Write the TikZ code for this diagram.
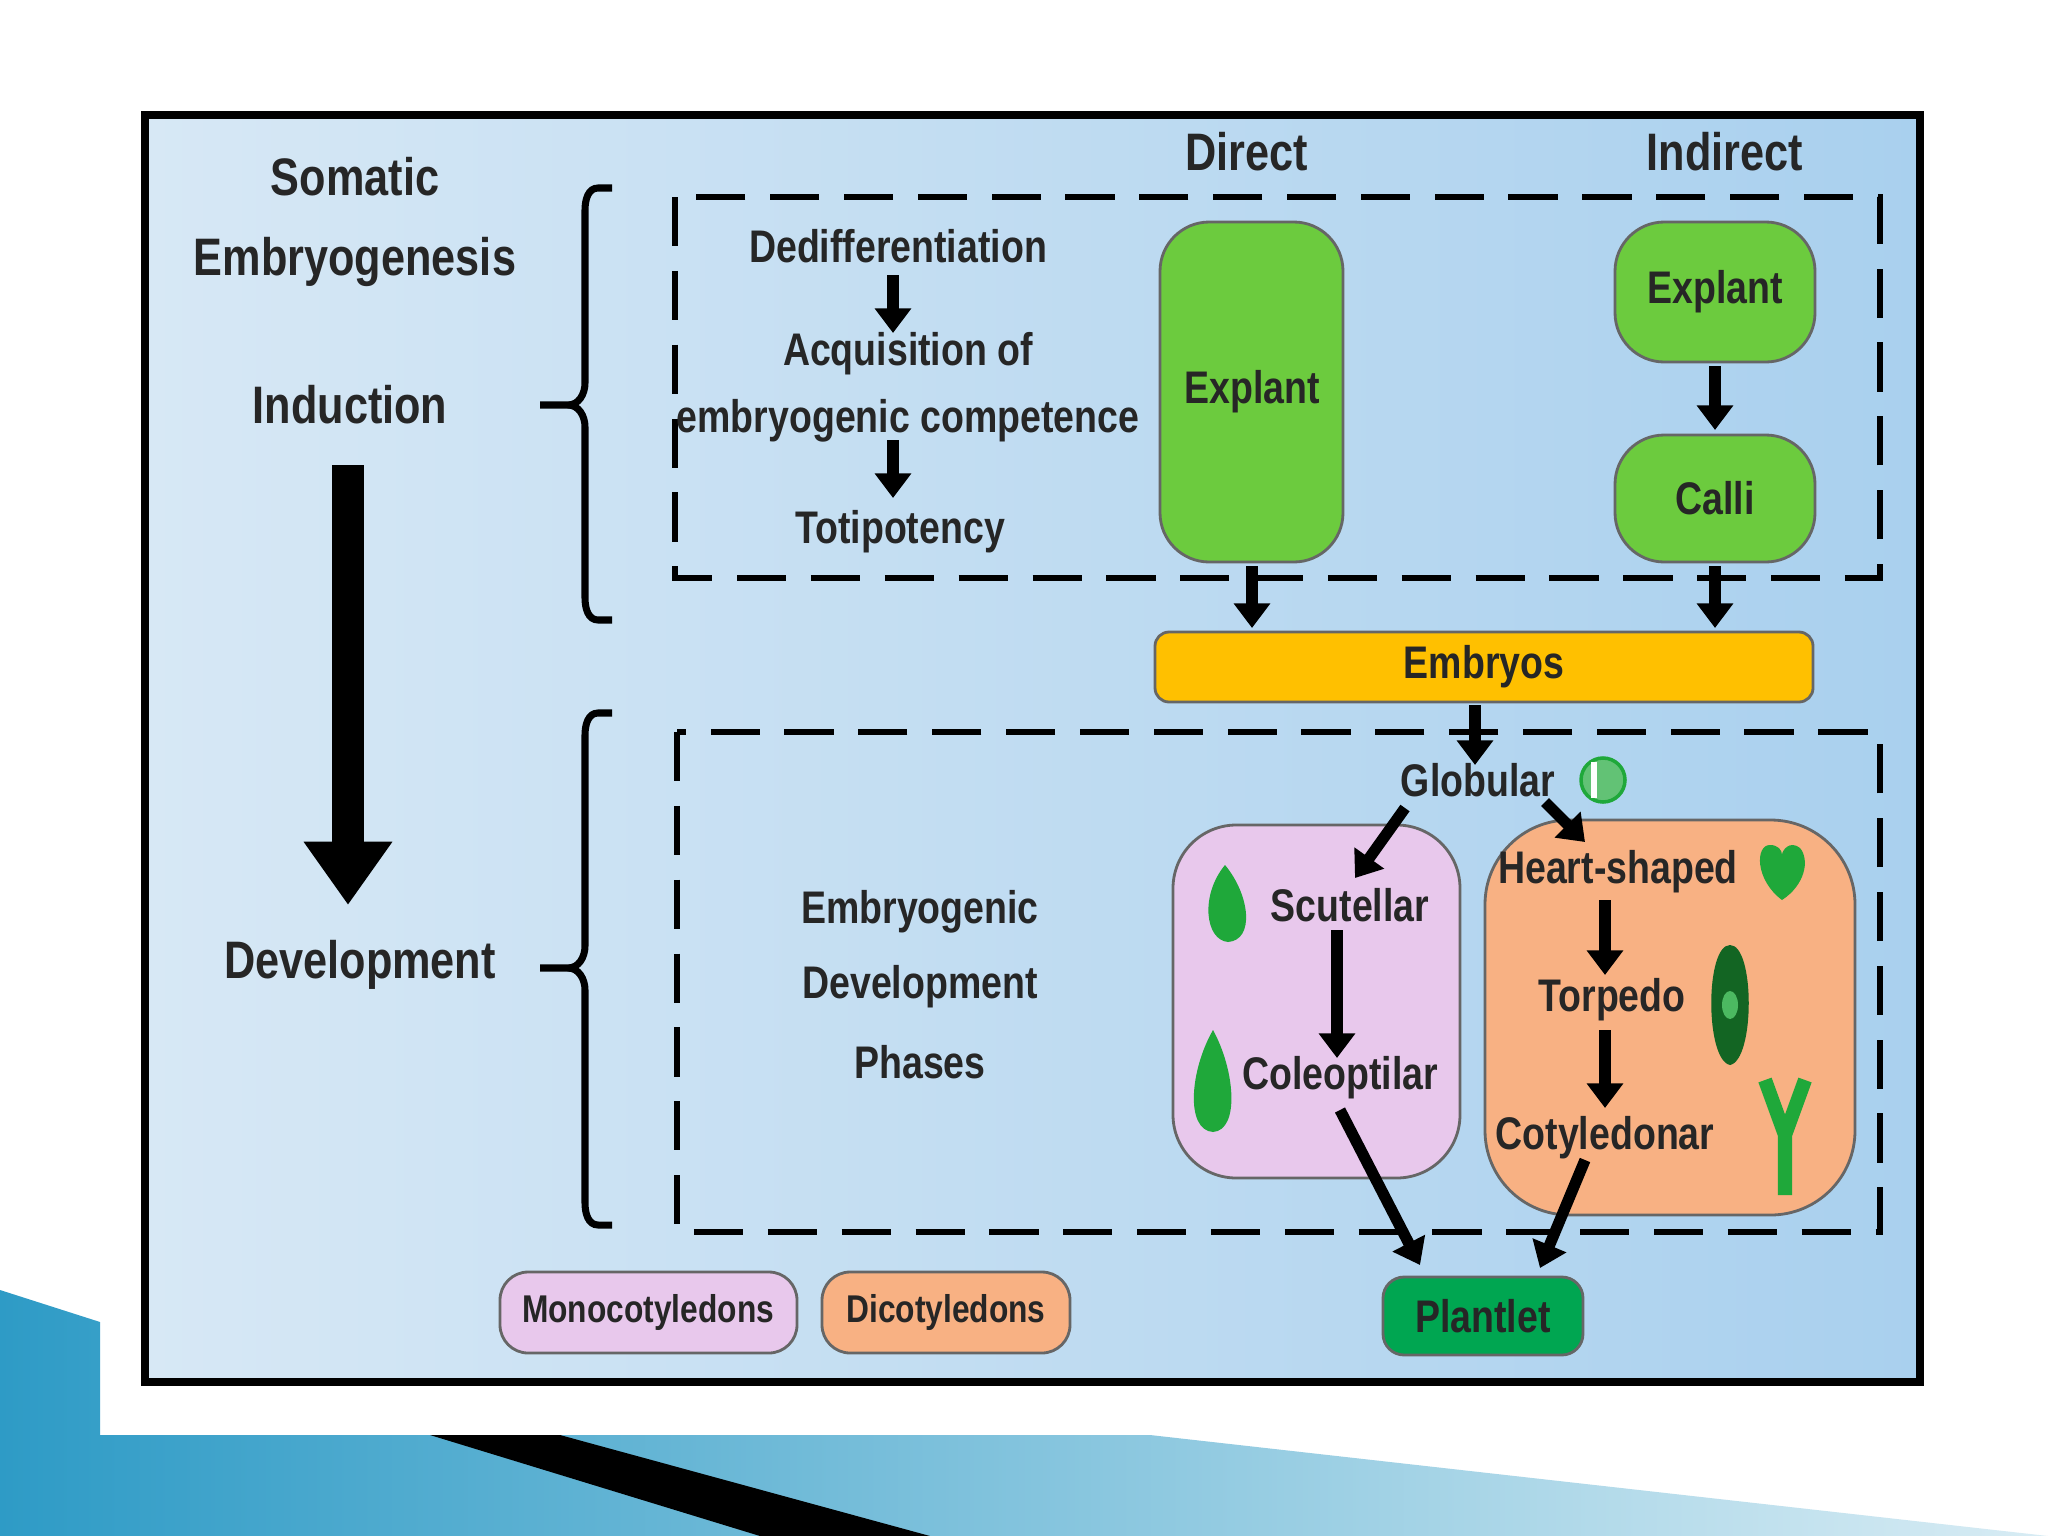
\documentclass[tikz,border=0pt]{standalone}
\usepackage{fontspec}
\setmainfont{Liberation Sans}[FakeStretch=0.82]
\usetikzlibrary{arrows.meta}
\definecolor{bgl}{HTML}{D7E8F5}
\definecolor{bgr}{HTML}{A9D0EE}
\definecolor{grn}{HTML}{6CCB3E}
\definecolor{dgrn}{HTML}{00A651}
\definecolor{pnk}{HTML}{E8C8EC}
\definecolor{org}{HTML}{F8B183}
\definecolor{yel}{HTML}{FFC000}
\definecolor{icon}{HTML}{1FA83A}
\definecolor{teal}{HTML}{2E9BC6}
\definecolor{pale}{HTML}{D8ECF4}
\begin{document}
\begin{tikzpicture}[x=0.01cm,y=-0.01cm,
  txt/.style={font=\fontsize{13}{15}\selectfont\bfseries, text=black!85, inner sep=1pt},
  big/.style={font=\fontsize{15}{17}\selectfont\bfseries, text=black!85, inner sep=1pt},
  sbox/.style={draw=black!60, line width=0.8pt},
  arr/.style={line width=3.2pt, -{Triangle[length=7pt,width=10pt]}},
  dbox/.style={draw, line width=1.8pt, dash pattern=on 14pt off 7pt}]
\useasboundingbox (0,0) rectangle (2048,1536);
\fill[white] (0,0) rectangle (2048,1536);
% slide decoration
\shade[left color=teal, right color=pale] (0,1290) -- (100,1322) -- (100,1435) -- (1150,1435) -- (2048,1536) -- (0,1536) -- cycle;
\fill[black] (430,1435) -- (560,1435) -- (930,1536) -- (760,1536) -- cycle;
% frame
\shade[left color=bgl, right color=bgr, draw=black, line width=2.5pt] (145,115) rectangle (1920,1382);
% left column
\node[big, align=center] (se) at (355,222) {Somatic\\[6pt]Embryogenesis};
\node[big] (ind) at (350,405) {Induction};
\node[big] (dev) at (360,965) {Development};
\draw[line width=9pt, -{Triangle[length=18pt,width=24pt]}] (348,465) -- (348,905);
% braces
\draw[line width=2pt] (612,188) -- (598,188) to[out=180,in=90] (585,210) -- (585,383) to[out=-90,in=0] (568,405) -- (540,405);
\draw[line width=2pt] (568,405) to[out=0,in=90] (585,427) -- (585,598) to[out=-90,in=180] (598,620) -- (612,620);
\draw[line width=2pt] (612,713) -- (598,713) to[out=180,in=90] (585,735) -- (585,946) to[out=-90,in=0] (568,968) -- (540,968);
\draw[line width=2pt] (568,968) to[out=0,in=90] (585,990) -- (585,1203) to[out=-90,in=180] (598,1225) -- (612,1225);
% dashed boxes
\draw[dbox] (675,197) rectangle (1880,578);
\draw[dbox] (677,732) rectangle (1880,1232);
% headers
\node[big] (dir) at (1247,152) {Direct};
\node[big] (indir) at (1725,152) {Indirect};
% induction steps
\node[txt] (ded) at (898,246) {Dedifferentiation};
\node[txt, align=center] (acq) at (908,387) {Acquisition of\\[4pt]embryogenic competence};
\node[txt] (tot) at (900,532) {Totipotency};
\draw[arr] (893,275) -- (893,333);
\draw[arr] (893,440) -- (893,498);
% explants
\fill[grn, sbox, rounded corners=14pt] (1160,222) rectangle (1343,562);
\node[txt] (ex1) at (1252,392) {Explant};
\fill[grn, sbox, rounded corners=14pt] (1615,222) rectangle (1815,362);
\node[txt] (ex2) at (1715,292) {Explant};
\fill[grn, sbox, rounded corners=14pt] (1615,435) rectangle (1815,562);
\node[txt] (calli) at (1715,498) {Calli};
\draw[arr] (1715,366) -- (1715,430);
\draw[arr] (1252,566) -- (1252,628);
\draw[arr] (1715,566) -- (1715,628);
% embryos
\fill[yel, sbox, rounded corners=4pt] (1155,632) rectangle (1813,702);
\node[txt] (emb) at (1484,667) {Embryos};
\draw[arr] (1475,705) -- (1475,765);
% phases label
\node[txt] (p1) at (920,912) {Embryogenic};
\node[txt] (p2) at (920,987) {Development};
\node[txt] (p3) at (920,1062) {Phases};
% mono / dicot boxes
\fill[pnk, sbox, rounded corners=18pt] (1173,825) rectangle (1460,1178);
\fill[org, sbox, rounded corners=24pt] (1485,820) rectangle (1855,1215);
\node[txt] (glob) at (1478,780) {Globular};
\node[txt] (scu) at (1350,905) {Scutellar};
\node[txt] (col) at (1340,1078) {Coleoptilar};
\node[txt] (hea) at (1618,872) {Heart-shaped};
\node[txt] (tor) at (1612,1000) {Torpedo};
\node[txt] (cot) at (1605,1138) {Cotyledonar};
\draw[arr] (1405,808) -- (1355,878);
\draw[arr] (1545,802) -- (1585,842);
\draw[arr] (1337,930) -- (1337,1058);
\draw[arr] (1605,900) -- (1605,975);
\draw[arr] (1605,1030) -- (1605,1108);
% icons
\fill[icon!70!white, draw=icon, line width=1pt] (1603,780) circle (22);
\fill[white] (1591,762) -- (1597,762) -- (1597,798) -- (1591,798) -- cycle;
\fill[icon] (1225,865) .. controls (1200,895) and (1205,940) .. (1228,942) .. controls (1255,940) and (1250,895) .. (1225,865);
\fill[icon] (1213,1030) .. controls (1190,1070) and (1185,1130) .. (1213,1132) .. controls (1240,1130) and (1235,1070) .. (1213,1030);
\fill[icon] (1782,900) .. controls (1755,880) and (1755,845) .. (1770,845) .. controls (1778,845) and (1782,850) .. (1782,855) .. controls (1782,850) and (1790,840) .. (1800,848) .. controls (1810,860) and (1805,885) .. (1782,900);
\fill[icon!60!black] (1730,945) .. controls (1705,945) and (1705,1060) .. (1730,1065) .. controls (1755,1060) and (1755,945) .. (1730,945);
\fill[icon!80!white] (1730,1005) ellipse (8 and 14);
\draw[icon, line width=4pt] (1785,1195) -- (1785,1135) -- (1765,1080) (1785,1135) -- (1805,1080);
% plantlet
\fill[dgrn, sbox, rounded corners=6pt] (1383,1277) rectangle (1583,1355);
\node[txt] (pl) at (1483,1316) {Plantlet};
\draw[arr] (1340,1110) -- (1420,1265);
\draw[arr] (1585,1160) -- (1540,1268);
% legend
\fill[pnk, sbox, rounded corners=8pt] (500,1272) rectangle (797,1353);
\node[txt, font=\fontsize{11}{13}\selectfont\bfseries] (mono) at (648,1312) {Monocotyledons};
\fill[org, sbox, rounded corners=8pt] (822,1272) rectangle (1070,1353);
\node[txt, font=\fontsize{11}{13}\selectfont\bfseries] (dico) at (946,1312) {Dicotyledons};
\end{tikzpicture}
\end{document}
